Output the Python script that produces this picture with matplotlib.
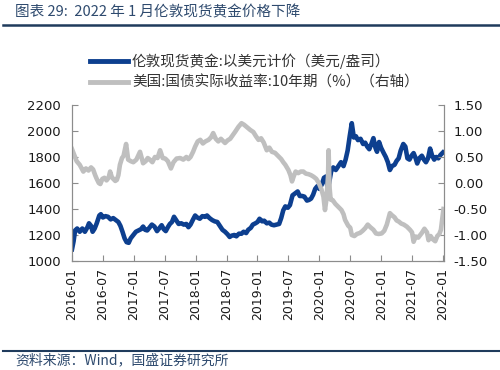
import matplotlib
matplotlib.use("Agg")
import matplotlib.pyplot as plt
from matplotlib.lines import Line2D

plt.rcParams['font.family'] = ['DejaVu Sans', 'Noto Sans CJK SC']
CJK = ['Noto Sans CJK SC', 'DejaVu Sans']

# month position (months since 2016-01) and values
gold_t = [0.0, 0.3, 0.6, 1.0, 1.5, 2.0, 2.5, 3.0, 3.3, 3.7, 4.0, 4.4, 4.8, 5.3, 5.6, 6.0, 6.5, 7.0, 7.5, 8.0,
          8.5, 9.0, 9.4, 9.8, 10.2, 10.6, 11.0, 11.4, 11.9, 12.4, 12.9, 13.4, 13.8, 14.2, 14.6, 15.0, 15.5, 16.0,
          16.5, 17.0, 17.4, 17.8, 18.2, 18.6, 19.0, 19.4, 19.8, 20.3, 20.7, 21.2, 21.7, 22.2, 22.6, 23.0, 23.5,
          23.9, 24.3, 24.8, 25.3, 25.8, 26.2, 26.7, 27.2, 27.7, 28.2, 28.7, 29.2, 29.7, 30.2, 30.6, 31.0, 31.5,
          31.9, 32.4, 32.9, 33.3, 33.8, 34.2, 34.7, 35.1, 35.6, 36.0, 36.4, 36.9, 37.3, 37.8, 38.3, 38.7, 39.2,
          39.7, 40.2, 40.6, 41.0, 41.4, 41.9, 42.3, 42.8, 43.3, 43.8, 44.2, 44.7, 45.1, 45.6, 46.0, 46.4, 46.8,
          47.2, 47.6, 48.0, 48.5, 48.9, 49.3, 49.6, 49.9, 50.3, 50.7, 51.2, 51.7, 52.2, 52.7, 53.1, 53.5, 53.9,
          54.3, 54.7, 55.1, 55.5, 56.0, 56.5, 56.9, 57.3, 57.7, 58.1, 58.5, 58.9, 59.2, 59.6, 60.0, 60.5, 60.9,
          61.3, 61.7, 62.1, 62.6, 63.0, 63.4, 63.8, 64.3, 64.7, 65.1, 65.5, 65.9, 66.3, 66.7, 67.0, 67.4, 67.9,
          68.3, 68.7, 69.1, 69.5, 69.9, 70.3, 70.7, 71.1, 71.5, 72.0]
gold = [1090, 1150, 1235, 1250, 1225, 1250, 1225, 1260, 1290, 1270, 1225, 1250, 1290, 1350, 1360, 1335, 1345,
        1340, 1320, 1330, 1315, 1300, 1270, 1225, 1175, 1145, 1140, 1175, 1200, 1225, 1235, 1245, 1265, 1240,
        1235, 1255, 1280, 1265, 1230, 1255, 1275, 1245, 1230, 1260, 1285, 1300, 1340, 1310, 1285, 1290, 1280,
        1285, 1260, 1280, 1320, 1350, 1335, 1325, 1345, 1340, 1350, 1330, 1315, 1305, 1300, 1270, 1240, 1225,
        1205, 1185, 1195, 1200, 1190, 1210, 1210, 1225, 1215, 1240, 1255, 1280, 1290, 1300, 1325, 1305, 1310,
        1290, 1295, 1280, 1275, 1280, 1285, 1330, 1390, 1420, 1410, 1430, 1505, 1520, 1535, 1500, 1500, 1495,
        1465, 1470, 1480, 1510, 1555, 1575, 1555, 1590, 1640, 1650, 1560, 1600, 1690, 1720, 1700, 1730, 1760,
        1730, 1780, 1850, 1960, 2060, 1950, 1960, 1930, 1940, 1900, 1910, 1880, 1860, 1900, 1945, 1870, 1840,
        1915, 1870, 1830, 1800, 1760, 1700, 1730, 1740, 1770, 1790, 1850, 1900, 1880, 1790, 1780, 1810, 1830,
        1790, 1750, 1790, 1810, 1780, 1760, 1790, 1865, 1810, 1780, 1800, 1790, 1815, 1835]

rate_t = [0.0, 0.4, 0.9, 1.5, 2.2, 2.7, 3.2, 3.7, 4.1, 4.5, 4.8, 5.2, 5.5, 5.9, 6.3, 6.7, 7.1, 7.4, 7.7, 8.0,
          8.4, 8.7, 9.0, 9.3, 9.7, 10.0, 10.5, 10.9, 11.4, 11.9, 12.5, 13.2, 13.8, 14.3, 14.7, 15.1, 15.6, 16.1,
          16.6, 17.1, 17.6, 18.1, 18.6, 19.2, 19.7, 20.3, 21.0, 21.6, 22.2, 22.6, 23.0, 23.5, 23.9, 24.4, 24.9,
          25.4, 25.9, 26.5, 27.0, 27.4, 27.9, 28.4, 28.9, 29.4, 29.7, 30.2, 30.7, 31.2, 31.7, 32.3, 32.9, 33.4,
          34.0, 34.6, 35.2, 35.7, 36.2, 36.7, 37.2, 37.8, 38.3, 38.8, 39.4, 40.1, 40.6, 41.0, 41.4, 42.0, 42.4,
          42.7, 43.0, 43.4, 43.9, 44.4, 44.9, 45.4, 45.9, 46.4, 46.9, 47.4, 47.9, 48.4, 48.8, 49.1, 49.4, 49.7,
          49.8, 50.0, 50.2, 50.6, 51.1, 51.7, 52.3, 52.7, 53.0, 53.6, 54.0, 54.3, 54.8, 55.3, 55.9, 56.4, 56.9,
          57.4, 57.9, 58.5, 59.0, 59.5, 60.1, 60.6, 61.1, 61.7, 62.1, 62.6, 63.0, 63.4, 63.9, 64.4, 65.0, 65.6,
          66.0, 66.3, 66.7, 67.2, 67.9, 68.4, 68.9, 69.2, 69.6, 70.0, 70.5, 70.9, 71.3, 71.6, 71.9, 72.1]
rate = [0.65, 0.55, 0.42, 0.35, 0.22, 0.28, 0.24, 0.30, 0.26, 0.15, 0.08, 0.00, -0.02, 0.08, 0.10, 0.05, 0.10,
        0.22, 0.12, 0.08, 0.04, 0.06, 0.15, 0.35, 0.48, 0.52, 0.75, 0.45, 0.42, 0.40, 0.45, 0.60, 0.38, 0.42,
        0.48, 0.45, 0.40, 0.50, 0.48, 0.63, 0.48, 0.47, 0.42, 0.28, 0.40, 0.47, 0.48, 0.45, 0.50, 0.46, 0.50,
        0.60, 0.70, 0.80, 0.83, 0.76, 0.80, 0.83, 0.88, 0.96, 0.85, 0.80, 0.85, 0.80, 0.77, 0.82, 0.85, 0.92,
        0.99, 1.08, 1.15, 1.12, 1.07, 1.02, 0.98, 0.90, 0.83, 0.86, 0.78, 0.63, 0.68, 0.60, 0.58, 0.51, 0.46,
        0.40, 0.35, 0.25, 0.15, 0.03, 0.12, 0.22, 0.19, 0.22, 0.22, 0.18, 0.17, 0.15, 0.12, 0.08, 0.00, -0.12,
        -0.26, -0.52, -0.30, 0.15, 0.63, -0.10, -0.32, -0.33, -0.40, -0.46, -0.52, -0.60, -0.71, -0.82, -0.86,
        -1.00, -1.02, -0.98, -0.96, -0.92, -0.87, -0.80, -0.85, -0.90, -0.97, -0.98, -0.97, -0.92, -0.80, -0.58,
        -0.62, -0.66, -0.72, -0.74, -0.78, -0.80, -0.84, -0.90, -0.95, -1.13, -1.03, -1.05, -0.96, -0.88, -0.95,
        -1.10, -1.02, -1.08, -1.12, -1.02, -0.98, -0.90, -0.65, -0.50]

tick_pos = [0, 6, 12, 18, 24, 30, 36, 42, 48, 54, 60, 66, 72]
tick_labels = ['2016-01', '2016-07', '2017-01', '2017-07', '2018-01', '2018-07', '2019-01',
               '2019-07', '2020-01', '2020-07', '2021-01', '2021-07', '2022-01']

gold_color = '#0D3F8F'
rate_color = '#BFBFBF'
axis_color = '#8C8C8C'

fig = plt.figure(figsize=(5, 3.7), dpi=100)
ax = fig.add_axes([0.144, 0.2946, 0.744, 0.4216])
ax2 = ax.twinx()

ax.plot(gold_t, gold, color=gold_color, linewidth=3.3, solid_joinstyle='round')
ax2.plot(rate_t, rate, color=rate_color, linewidth=3.3, solid_joinstyle='round')

ax.set_xlim(0, 72.2)
ax.set_ylim(1000, 2200)
ax.set_yticks(range(1000, 2201, 200))
ax2.set_ylim(-1.5, 1.5)
ax2.set_yticks([-1.5, -1.0, -0.5, 0.0, 0.5, 1.0, 1.5])
ax2.set_yticklabels([f'{v:.2f}' for v in [-1.5, -1.0, -0.5, 0.0, 0.5, 1.0, 1.5]])
ax.set_xticks(tick_pos)
ax.set_xticklabels(tick_labels, rotation=90)

for a in (ax, ax2):
    a.spines['top'].set_visible(False)
    for s in ('left', 'right', 'bottom'):
        a.spines[s].set_color(axis_color)
    a.tick_params(direction='in', length=4, color=axis_color, labelsize=9, labelcolor='#1a1a1a')
ax.tick_params(axis='y', pad=8, labelsize=9.5)
ax2.tick_params(axis='y', pad=7, labelsize=9.5)
ax.tick_params(axis='x', pad=5)

handles = [Line2D([], [], color=gold_color, linewidth=3.5),
           Line2D([], [], color=rate_color, linewidth=3.5)]
labels = ['伦敦现货黄金:以美元计价（美元/盎司）', '美国:国债实际收益率:10年期（%）（右轴）']
fig.legend(handles, labels, loc='upper left', bbox_to_anchor=(0.165, 0.875), frameon=False,
           prop={'family': CJK, 'size': 10.5}, handlelength=2.6, handletextpad=0.3,
           labelspacing=0.45, borderpad=0, labelcolor='#333333')

fig.text(0.03, 1 - 12 / 370, '图表 29:  2022 年 1 月伦敦现货黄金价格下降', family=CJK, fontsize=10.5,
         color='#2E4A6E', va='center', ha='left')
fig.add_artist(Line2D([0.006, 1.0], [1 - 25 / 370, 1 - 25 / 370], color='#1F3B5C', linewidth=1.8))
fig.add_artist(Line2D([0.006, 1.0], [1 - 351 / 370, 1 - 351 / 370], color='#1F3B5C', linewidth=1.5))
fig.text(0.03, 1 - 360 / 370, '资料来源：Wind，国盛证券研究所', family=CJK, fontsize=10,
         color='#2E4A6E', va='center', ha='left')

fig.savefig('out.png', dpi=100)
